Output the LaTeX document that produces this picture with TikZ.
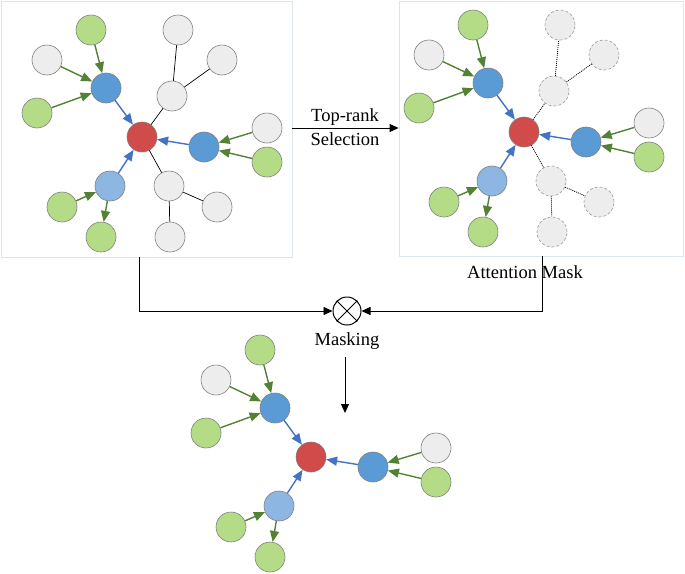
\documentclass[tikz,border=0pt]{standalone}
\usepackage{fontspec}
\setmainfont{Liberation Serif}
\usetikzlibrary{arrows.meta}
\definecolor{cred}{HTML}{D24B4B}
\definecolor{cblue}{HTML}{5B9BD5}
\definecolor{clblue}{HTML}{8EB6E2}
\definecolor{cgreen}{HTML}{B4DC87}
\definecolor{cgray}{HTML}{EDEDED}
\definecolor{cborder}{HTML}{808080}
\definecolor{cgarrow}{HTML}{548235}
\definecolor{cbarrow}{HTML}{4472C4}
\definecolor{cpanel}{HTML}{DDE5F0}
\tikzset{
  nd/.style={circle,minimum size=30pt,inner sep=0pt,draw=cborder,line width=0.6pt},
  rednd/.style={nd,fill=cred},
  bluend/.style={nd,fill=cblue},
  lbluend/.style={nd,fill=clblue},
  greennd/.style={nd,fill=cgreen},
  graynd/.style={nd,fill=cgray},
  dgraynd/.style={graynd,draw=cborder!80,dash pattern=on 3pt off 2pt},
  garrow/.style={draw=cgarrow,line width=1.4pt,-{Triangle[length=11pt,width=9pt]}},
  barrow/.style={draw=cbarrow,line width=1.4pt,-{Triangle[length=11pt,width=9pt]}},
  sedge/.style={draw=black,line width=0.7pt},
  dedge/.style={draw=black,line width=0.8pt,dash pattern=on 1pt off 1pt},
  kline/.style={draw=black,line width=0.8pt},
  karrow/.style={kline,-{Triangle[length=9pt,width=8pt]}},
  panel/.style={draw=cpanel,line width=0.8pt,fill=white},
  lbl/.style={font=\fontsize{18.5}{21}\selectfont,inner sep=0pt}
}
\newcommand\colorgraph[1]{%
  \node[rednd] (#1r) at (142,137) {};
  \node[bluend] (#1b1) at (106,88) {};
  \node[greennd] (#1g1) at (91,30) {};
  \node[graynd] (#1y1) at (47,60) {};
  \node[greennd] (#1g2) at (37,113) {};
  \node[bluend] (#1b2) at (204,147) {};
  \node[graynd] (#1y2) at (267,128) {};
  \node[greennd] (#1g3) at (267,162) {};
  \node[lbluend] (#1b3) at (110,186) {};
  \node[greennd] (#1g4) at (62,207) {};
  \node[greennd] (#1g5) at (101,237) {};
  \draw[garrow] (#1g1) -- (#1b1);
  \draw[garrow] (#1y1) -- (#1b1);
  \draw[garrow] (#1g2) -- (#1b1);
  \draw[garrow] (#1y2) -- (#1b2);
  \draw[garrow] (#1g3) -- (#1b2);
  \draw[garrow] (#1g4) -- (#1b3);
  \draw[garrow] (#1b3) -- (#1g5);
  \draw[barrow] (#1b1) -- (#1r);
  \draw[barrow] (#1b2) -- (#1r);
  \draw[barrow] (#1b3) -- (#1r);
}
\newcommand\graypart[3]{%
  \node[#2] (#1x1) at (172,96) {};
  \node[#2] (#1x2) at (178,30) {};
  \node[#2] (#1x3) at (222,60) {};
  \node[#2] (#1x4) at (169,186) {};
  \node[#2] (#1x5) at (217,207) {};
  \node[#2] (#1x6) at (170,237) {};
  \draw[#3] (#1r) -- (#1x1);
  \draw[#3] (#1x1) -- (#1x2);
  \draw[#3] (#1x1) -- (#1x3);
  \draw[#3] (#1r) -- (#1x4);
  \draw[#3] (#1x4) -- (#1x5);
  \draw[#3] (#1x4) -- (#1x6);
}
\begin{document}
\begin{tikzpicture}[x=1pt,y=-1pt]
\useasboundingbox (0,0) rectangle (685,573);
\node[panel,minimum width=291pt,minimum height=256pt,inner sep=0pt] (lp) at (146.5,129) {};
\node[panel,minimum width=284pt,minimum height=255pt,inner sep=0pt] (rp) at (541,128.5) {};
% left panel
\colorgraph{L}
\graypart{L}{graynd}{sedge}
% right panel
\begin{scope}[shift={(382,-5)}]
\colorgraph{R}
\graypart{R}{dgraynd}{dedge}
\end{scope}
% bottom graph
\begin{scope}[shift={(169,320)}]
\colorgraph{B}
\end{scope}
% top-rank arrow
\draw[karrow] (lp.east |- 0,128) -- (rp.west |- 0,128);
\node[lbl] (t1) at (345,117) {Top-rank};
\node[lbl] (t2) at (345,139) {Selection};
% masking
\node[circle,draw=black,line width=1pt,minimum size=28pt,inner sep=0pt] (m) at (347,311) {};
\draw[line width=1pt] (m.north west) -- (m.south east) (m.north east) -- (m.south west);
\coordinate (ls) at (139,257);
\coordinate (rs) at (542,256);
\draw[karrow] (ls) |- (m.west);
\draw[karrow] (rs) |- (m.east);
\node[lbl,anchor=west] (am) at (467,272) {Attention Mask};
\node[lbl] (mk) at (347,341) {Masking};
\coordinate (dtop) at (345,357);
\coordinate (dbot) at (345,413);
\draw[karrow] (dtop) -- (dbot);
\end{tikzpicture}
\end{document}
